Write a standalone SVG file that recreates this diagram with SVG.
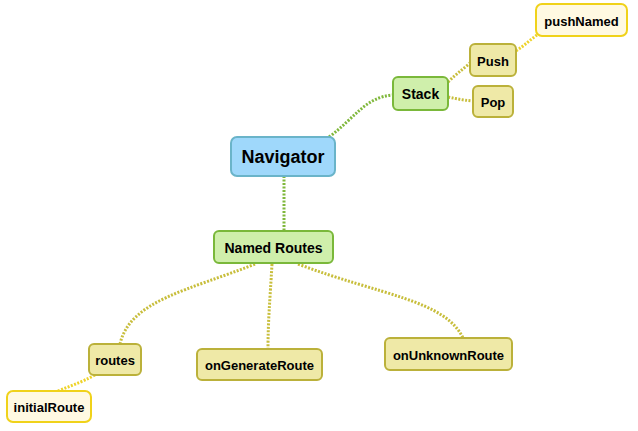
<svg xmlns="http://www.w3.org/2000/svg" width="638" height="431" viewBox="0 0 638 431">
<style>
text{font-family:"Liberation Sans",Arial,sans-serif;font-weight:bold;fill:#000;text-anchor:middle;dominant-baseline:central}
.blue{fill:#9fd8fb;stroke:#6ab4c9;stroke-width:2}
.green{fill:#cfefab;stroke:#7ab83a;stroke-width:2}
.olive{fill:#efe9a7;stroke:#bbb13a;stroke-width:2}
.yellow{fill:#fff9e2;stroke:#f0d21a;stroke-width:2}
.c{fill:none;stroke-width:3;stroke-dasharray:2 1.5}
.cg{stroke:#80b83c}.co{stroke:#c8be3c}.cy{stroke:#eed32a}
</style>
<rect width="638" height="431" fill="#fff"/>
<g id="connectors">
<path class="c cg" d="M329,137 C355,118 365,97 393,95"/>
<path class="c cg" d="M284,176 L284,231"/>
<path class="c co" d="M448,97 C458,99 462,100 473,101"/>
<path class="c co" d="M448,82 C455,75 462,70 470,63"/>
<path class="c cy" d="M516,51 C525,45 530,40 537,35"/>
<path class="c co" d="M255,264 C190,290 130,300 120,344"/>
<path class="c co" d="M272,264 C270,300 268,320 268,349"/>
<path class="c co" d="M298,264 C380,295 445,300 463,338"/>
<path class="c cy" d="M95,375 C80,383 70,386 58,391"/>
</g>
<g id="navigator"><rect class="blue" x="231" y="137" width="104" height="39" rx="6"/><text x="283" y="157" font-size="18">Navigator</text></g>
<g id="stack"><rect class="green" x="393" y="77" width="55" height="33" rx="5"/><text x="420.5" y="94" font-size="14">Stack</text></g>
<g id="push"><rect class="olive" x="470" y="44" width="46" height="32" rx="5"/><text x="493" y="61" font-size="13">Push</text></g>
<g id="pop"><rect class="olive" x="473" y="86" width="40" height="31" rx="5"/><text x="493" y="102" font-size="13">Pop</text></g>
<g id="pushNamed"><rect class="yellow" x="536" y="4" width="91" height="32" rx="6"/><text x="581.5" y="21" font-size="13">pushNamed</text></g>
<g id="namedRoutes"><rect class="green" x="214" y="231" width="119" height="32" rx="5"/><text x="273.5" y="248" font-size="14">Named Routes</text></g>
<g id="routes"><rect class="olive" x="89" y="344" width="52" height="31" rx="5"/><text x="115" y="360" font-size="13">routes</text></g>
<g id="onGenerateRoute"><rect class="olive" x="197" y="349" width="125" height="31" rx="5"/><text x="259.5" y="365" font-size="13">onGenerateRoute</text></g>
<g id="onUnknownRoute"><rect class="olive" x="385" y="338" width="127" height="32" rx="5"/><text x="448.5" y="355" font-size="13">onUnknownRoute</text></g>
<g id="initialRoute"><rect class="yellow" x="7" y="391" width="84" height="31" rx="6"/><text x="49" y="407" font-size="13">initialRoute</text></g>
</svg>
